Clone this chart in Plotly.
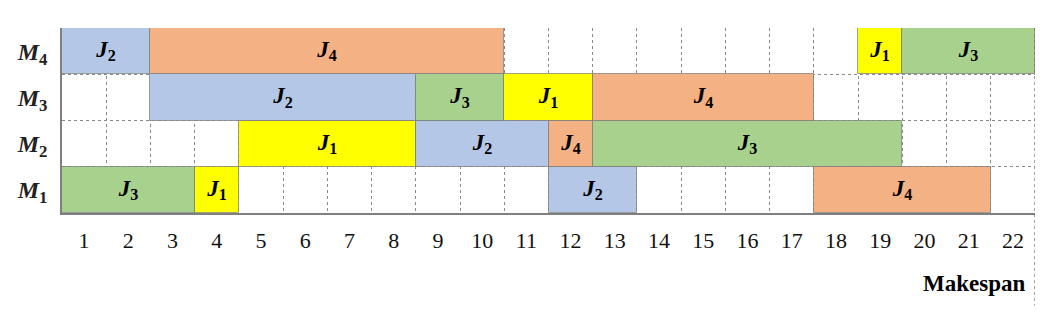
import plotly.graph_objects as go

# machines (bottom to top) and job operation windows per machine, in time units
machines = ["M1", "M2", "M3", "M4"]
jobs = ["J1", "J2", "J3", "J4"]

j1_start = [3, 4, 10, 18]
j1_end = [4, 8, 12, 19]
j2_start = [11, 8, 2, 0]
j2_end = [13, 11, 8, 2]
j3_start = [0, 12, 8, 19]
j3_end = [3, 19, 10, 22]
j4_start = [17, 11, 12, 2]
j4_end = [21, 12, 17, 10]

time_labels = [str(t) for t in range(1, 23)]
makespan = 22

starts = [j1_start, j2_start, j3_start, j4_start]
ends = [j1_end, j2_end, j3_end, j4_end]
colors = ["#FFFF00", "#B4C7E7", "#A9D18E", "#F4B183"]

SERIF = "Liberation Serif"
grid_col = "#8a8a8a"

fig = go.Figure()
for job, s, e, c in zip(jobs, starts, ends, colors):
    lbl = "<b><i>J</i><sub>%s</sub></b>" % job[1:]
    fig.add_trace(go.Bar(
        y=machines,
        base=s,
        x=[b - a for a, b in zip(s, e)],
        orientation="h",
        name=job,
        marker=dict(color=c, line=dict(color="rgba(120,120,120,0.7)", width=1)),
        text=[lbl] * len(machines),
        textposition="inside",
        insidetextanchor="middle",
        textfont=dict(family=SERIF, size=23, color="black"),
        showlegend=False,
        width=1,
    ))

fig.add_shape(type="line", xref="x", yref="paper", x0=makespan, x1=makespan,
              y0=1, y1=-0.5, line=dict(color="#666", width=1.2, dash="dot"))

fig.add_annotation(x=makespan, y=-0.38, xref="x", yref="paper", xanchor="right",
                   yanchor="middle", xshift=-8, text="<b>Makespan</b>", showarrow=False,
                   font=dict(family=SERIF, size=23, color="black"))

# page body adds an 8px offset, so the figure is sized to sit inside the window
fig.update_layout(
    width=1039, height=305,
    margin=dict(l=54, r=12, t=20, b=100),
    plot_bgcolor="white", paper_bgcolor="white",
    barmode="overlay",
    bargap=0,
    font=dict(family=SERIF, color="black"),
    xaxis=dict(
        range=[0, makespan],
        tickmode="array",
        tickvals=[i + 0.5 for i in range(len(time_labels))],
        ticktext=time_labels,
        ticks="",
        ticklabelstandoff=7,
        tickfont=dict(family=SERIF, size=22, color="#111"),
        showgrid=False,
        zeroline=False,
        automargin=False,
        showline=True, linecolor="#7f7f7f", linewidth=2,
        minor=dict(tickmode="linear", tick0=0, dtick=1, showgrid=True,
                   gridcolor=grid_col, griddash="dot", gridwidth=1),
    ),
    yaxis=dict(
        type="category",
        categoryorder="array", categoryarray=machines,
        tickvals=machines,
        ticktext=["<b><i>M</i><sub>%s</sub></b>" % m[1:] for m in machines],
        tickson="boundaries",
        ticks="",
        ticklabelstandoff=8,
        tickfont=dict(family=SERIF, size=24, color="#222"),
        showgrid=True, gridcolor=grid_col, griddash="dot", gridwidth=1,
        automargin=False,
        showline=True, linecolor="#7f7f7f", linewidth=1.5,
        range=[-0.5, 3.5],
    ),
)

fig.write_html("out.html")
